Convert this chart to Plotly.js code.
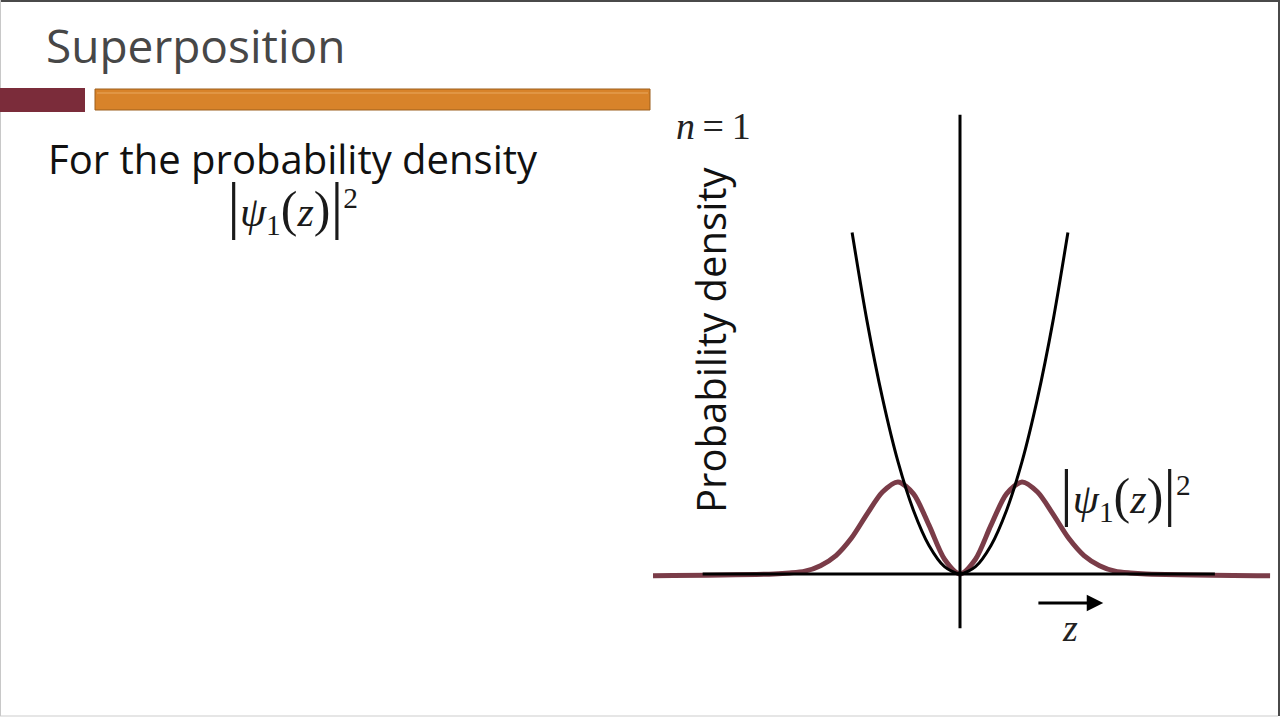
<!DOCTYPE html>
<html>
<head>
<meta charset="utf-8">
<script src="https://cdn.plot.ly/plotly-3.0.1.min.js"></script>
<style>
  html, body { margin: 0; padding: 0; background: #ffffff; }
  #plot1 { width: 1280px; height: 720px; }
</style>
</head>
<body>
<div id="plot1"></div>
<script>
// values (z in units of the peak position, density in units of the peak height)
var densityZ = [-4.95, -3.0, -2.75, -2.5, -2.25, -2.0, -1.75, -1.5, -1.25, -1.0, -0.75, -0.5, -0.25, 0,
                0.25, 0.5, 0.75, 1.0, 1.25, 1.5, 1.75, 2.0, 2.25, 2.5, 2.75, 3.0, 5.0]
var densityP = [-0.02, 0.0, 0.01, 0.03, 0.09, 0.2, 0.39, 0.65, 0.89, 1.0, 0.87, 0.53, 0.16, 0,
                0.16, 0.53, 0.87, 1.0, 0.89, 0.65, 0.39, 0.2, 0.09, 0.03, 0.01, 0.0, -0.02]

var potentialZ = [-1.74, -1.5, -1.25, -1.0, -0.75, -0.5, -0.25, 0, 0.25, 0.5, 0.75, 1.0, 1.25, 1.5, 1.74]
var potentialV = [3.71, 2.75, 1.91, 1.22, 0.69, 0.31, 0.08, 0, 0.08, 0.31, 0.69, 1.22, 1.91, 2.75, 3.71]

var zAxisX = [-4.15, 4.11]
var zAxisY = [0, 0]
var pAxisX = [0, 0]
var pAxisY = [-0.59, 4.99]

var serif = 'Liberation Serif, DejaVu Serif, serif'
var sans = 'Open Sans, Lato, sans-serif'

var slideTitle = 'Superposition'
var bodyText = 'For the probability density'
var yLabel = 'Probability density'
var stateLabel = '<i>n</i>\u2009=\u20091'
var psiLabel = '<span style="font-size:64px">|</span><i>ψ</i><sub>1</sub>' +
    '<span style="font-size:50px">(</span><i>z</i><span style="font-size:50px">)</span>' +
    '<span style="font-size:64px">|</span><sup>2</sup>'
var psiLabelSerif = '<span style="font-family:Liberation Serif, serif;font-size:42px;color:#1a1a1a">' +
    psiLabel + '</span>'

var W = 1280
var H = 720
function px(x) { return x / W }
function py(y) { return 1 - y / H }

function draw() {
    try {
        var dens = {
            x: densityZ, y: densityP, mode: 'lines', type: 'scatter',
            line: {color: '#7a3c48', width: 5, shape: 'spline', smoothing: 0.8},
            hoverinfo: 'skip'
        }
        var pot = {
            x: potentialZ, y: potentialV, mode: 'lines', type: 'scatter',
            line: {color: '#000000', width: 3, shape: 'spline', smoothing: 0.8},
            hoverinfo: 'skip'
        }
        var axZ = {
            x: zAxisX, y: zAxisY, mode: 'lines', type: 'scatter',
            line: {color: '#000000', width: 3}, hoverinfo: 'skip'
        }
        var axP = {
            x: pAxisX, y: pAxisY, mode: 'lines', type: 'scatter',
            line: {color: '#000000', width: 3}, hoverinfo: 'skip'
        }

        var layout = {
            width: W, height: H,
            margin: {l: 0, r: 0, t: 0, b: 0, pad: 0},
            paper_bgcolor: '#ffffff', plot_bgcolor: 'rgba(0,0,0,0)',
            showlegend: false,
            xaxis: {
                domain: [0.5, 1], range: [-5.16, 5.16],
                showgrid: false, zeroline: false, showticklabels: false, showline: false, ticks: ''
            },
            yaxis: {
                domain: [60 / 720, 620 / 720], range: [-0.935, 5.15],
                showgrid: false, zeroline: false, showticklabels: false, showline: false, ticks: ''
            },
            shapes: [
                // slide frame
                {type: 'line', xref: 'paper', yref: 'paper', x0: 0, x1: 1, y0: py(1), y1: py(1), line: {color: '#4a4a4a', width: 2}},
                {type: 'line', xref: 'paper', yref: 'paper', x0: px(1279), x1: px(1279), y0: py(0), y1: py(716), line: {color: '#4a4a4a', width: 2}},
                {type: 'line', xref: 'paper', yref: 'paper', x0: 0, x1: px(1278), y0: py(716), y1: py(716), line: {color: '#e6e6e6', width: 2}},
                {type: 'line', xref: 'paper', yref: 'paper', x0: px(0.5), x1: px(0.5), y0: py(0), y1: py(716), line: {color: '#c8c8c8', width: 1}},
                // header bars
                {type: 'rect', xref: 'paper', yref: 'paper', x0: 0, x1: px(85), y0: py(112), y1: py(88),
                    fillcolor: '#7b2c3a', line: {width: 0}},
                {type: 'rect', xref: 'paper', yref: 'paper', x0: px(95), x1: px(650), y0: py(110), y1: py(89),
                    fillcolor: '#d8832a', line: {color: '#9c5e1c', width: 1}},
                {type: 'line', xref: 'paper', yref: 'paper', x0: px(97), x1: px(648), y0: py(93), y1: py(93),
                    line: {color: '#e9a85e', width: 1}}
            ],
            annotations: [
                {xref: 'paper', yref: 'paper', x: px(44), y: py(45), xanchor: 'left', yanchor: 'middle',
                    text: slideTitle, showarrow: false, font: {family: sans, size: 46, color: '#474747'}},
                {xref: 'paper', yref: 'paper', x: px(293), y: py(129), xanchor: 'center', yanchor: 'top',
                    align: 'center', text: bodyText + '<br>' + psiLabelSerif, showarrow: false,
                    font: {family: sans, size: 40, color: '#111111'}},
                {xref: 'paper', yref: 'paper', x: px(710), y: py(340), xanchor: 'center', yanchor: 'middle',
                    textangle: -90, text: yLabel, showarrow: false, font: {family: sans, size: 40, color: '#111111'}},
                {xref: 'paper', yref: 'paper', x: px(674), y: py(126), xanchor: 'left', yanchor: 'middle',
                    text: stateLabel, showarrow: false, font: {family: serif, size: 38, color: '#222222'}},
                {xref: 'paper', yref: 'paper', x: px(1058), y: py(492), xanchor: 'left', yanchor: 'middle',
                    text: psiLabel, showarrow: false, font: {family: serif, size: 42, color: '#1a1a1a'}},
                // z direction arrow
                {xref: 'x', yref: 'y', axref: 'x', ayref: 'y', x: 2.31, y: -0.315, ax: 1.24, ay: -0.315,
                    text: '', showarrow: true, arrowhead: 2, arrowsize: 1.1, arrowwidth: 3, arrowcolor: '#000000'},
                {xref: 'x', yref: 'y', x: 1.77, y: -0.59, xanchor: 'center', yanchor: 'middle',
                    text: '<i>z</i>', showarrow: false, font: {family: serif, size: 38, color: '#222222'}}
            ]
        }

        Plotly.newPlot('plot1', [dens, pot, axZ, axP], layout, {staticPlot: true, displayModeBar: false})
    }
    catch (err) {
        console.error(err)
    }
}

draw()
</script>
</body>
</html>
